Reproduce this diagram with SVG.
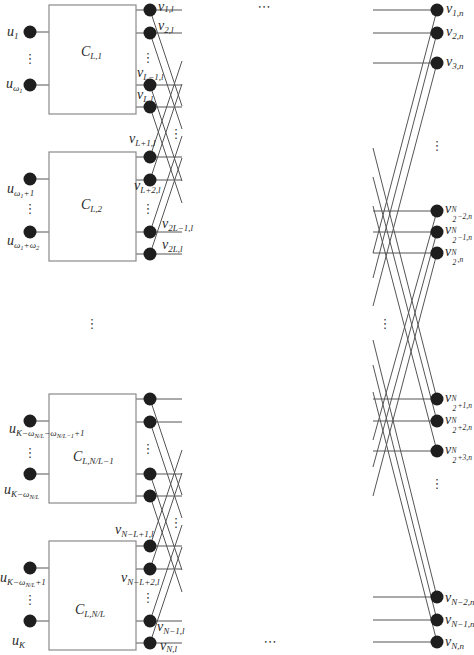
<svg xmlns="http://www.w3.org/2000/svg" width="474" height="655" viewBox="0 0 474 655">
<style>
.bg{fill:#fff}
.blk{fill:#fff;stroke:#8a8a8a;stroke-width:1.2}
.ln{stroke:#555;stroke-width:1;fill:none}
.dot{fill:#1e1e1e}
.t{font-family:"Liberation Serif",serif;font-style:italic;font-size:14px;fill:#2a2a2a}
.s{font-size:9px}
.ss{font-size:6.5px}
.f{font-size:7.5px}
.el{font-family:"DejaVu Sans",sans-serif;font-size:13px;fill:#444;text-anchor:middle}
</style>
<rect class="bg" x="0" y="0" width="474" height="655"/>

<g id="connectors">
  <path class="ln" d="M30 32H49M30 85H49M30 179H49M30 232H49M30 421H49M30 474H49M30 568H49M30 621H49"/>
  <path class="ln" d="M136 10H182M136 33H182M136 85H182M136 107H182M136 157H182M136 180H182M136 232H182M136 254H182"/>
  <path class="ln" d="M136 399H182M136 422H182M136 474H182M136 496H182M136 546H182M136 569H182M136 621H182M136 643H182"/>
  <path class="ln" d="M150 10L182 106M150 33L182 129M150 85L182 181M150 107L182 203"/>
  <path class="ln" d="M150 157L182 61M150 180L182 84M150 232L182 136M150 254L182 158"/>
  <path class="ln" d="M150 399L182 495M150 422L182 518M150 474L182 570M150 496L182 592"/>
  <path class="ln" d="M150 546L182 450M150 569L182 473M150 621L182 525M150 643L182 547"/>
  <path class="ln" d="M373 10H437M373 33H437M373 63H437M373 211H437M373 232H437M373 253H437M373 399H437M373 421H437M373 451H437M373 597H437M373 620H437M373 642H437"/>
  <path class="ln" d="M437 10L373 253M437 33L373 278M437 63L373 306"/>
  <path class="ln" d="M437 211L373 440M437 232L373 467M437 253L373 496"/>
  <path class="ln" d="M437 399L373 148M437 421L373 177M437 451L373 206"/>
  <path class="ln" d="M437 597L373 340M437 620L373 365M437 642L373 392"/>
</g>

<g id="C_L1">
  <rect class="blk" x="49" y="5" width="87" height="109"/>
  <text class="t" x="81" y="56">C<tspan class="s" dy="3">L,1</tspan></text>
</g>
<g id="C_L2">
  <rect class="blk" x="49" y="152" width="87" height="109"/>
  <text class="t" x="81" y="209">C<tspan class="s" dy="3">L,2</tspan></text>
</g>
<g id="C_LNL-1">
  <rect class="blk" x="49" y="394" width="87" height="109"/>
  <text class="t" x="73" y="461">C<tspan class="s" dy="3">L,N/L−1</tspan></text>
</g>
<g id="C_LNL">
  <rect class="blk" x="49" y="541" width="87" height="109"/>
  <text class="t" x="75" y="614">C<tspan class="s" dy="3">L,N/L</tspan></text>
</g>

<g id="u1"><circle class="dot" cx="30" cy="32" r="6.5"/><text class="t" x="7" y="36">u<tspan class="s" dy="3">1</tspan></text></g>
<g id="u_w1"><circle class="dot" cx="30" cy="85" r="6.5"/><text class="t" x="6" y="88">u<tspan class="s" dy="3">ω</tspan><tspan class="ss" dy="2">1</tspan></text></g>
<g id="u_w1p1"><circle class="dot" cx="30" cy="179" r="6.5"/><text class="t" x="7" y="193">u<tspan class="s" dy="3">ω</tspan><tspan class="ss" dy="2">1</tspan><tspan class="s" dy="-2">+1</tspan></text></g>
<g id="u_w1pw2"><circle class="dot" cx="30" cy="232" r="6.5"/><text class="t" x="7" y="245">u<tspan class="s" dy="3">ω</tspan><tspan class="ss" dy="2">1</tspan><tspan class="s" dy="-2">+ω</tspan><tspan class="ss" dy="2">2</tspan></text></g>
<g id="u_a"><circle class="dot" cx="30" cy="421" r="6.5"/><text class="t" x="9" y="433">u<tspan class="s" dy="3">K−ω</tspan><tspan class="ss" dy="2">N/L</tspan><tspan class="s" dy="-2">−ω</tspan><tspan class="ss" dy="2">N/L−1</tspan><tspan class="s" dy="-2">+1</tspan></text></g>
<g id="u_b"><circle class="dot" cx="30" cy="474" r="6.5"/><text class="t" x="4" y="494">u<tspan class="s" dy="3">K−ω</tspan><tspan class="ss" dy="2">N/L</tspan></text></g>
<g id="u_c"><circle class="dot" cx="30" cy="568" r="6.5"/><text class="t" x="0" y="582">u<tspan class="s" dy="3">K−ω</tspan><tspan class="ss" dy="2">N/L</tspan><tspan class="s" dy="-2">+1</tspan></text></g>
<g id="uK"><circle class="dot" cx="30" cy="621" r="6.5"/><text class="t" x="12" y="645">u<tspan class="s" dy="3">K</tspan></text></g>

<g id="v1l"><circle class="dot" cx="150" cy="10" r="6.5"/><text class="t" x="158" y="11">v<tspan class="s" dy="1">1,l</tspan></text></g>
<g id="v2l"><circle class="dot" cx="150" cy="33" r="6.5"/><text class="t" x="158" y="30">v<tspan class="s" dy="3">2,l</tspan></text></g>
<g id="vLm1l"><circle class="dot" cx="150" cy="85" r="6.5"/><text class="t" x="137" y="77">v<tspan class="s" dy="3">L−1,l</tspan></text></g>
<g id="vLl"><circle class="dot" cx="150" cy="107" r="6.5"/><text class="t" x="137" y="99">v<tspan class="s" dy="3">L,l</tspan></text></g>
<g id="vLp1l"><circle class="dot" cx="150" cy="157" r="6.5"/><text class="t" x="129" y="143">v<tspan class="s" dy="3">L+1,l</tspan></text></g>
<g id="vLp2l"><circle class="dot" cx="150" cy="180" r="6.5"/><text class="t" x="134" y="190">v<tspan class="s" dy="3">L+2,l</tspan></text></g>
<g id="v2Lm1l"><circle class="dot" cx="150" cy="232" r="6.5"/><text class="t" x="162" y="228">v<tspan class="s" dy="3">2L−1,l</tspan></text></g>
<g id="v2Ll"><circle class="dot" cx="150" cy="254" r="6.5"/><text class="t" x="162" y="249">v<tspan class="s" dy="3">2L,l</tspan></text></g>
<g id="o3a"><circle class="dot" cx="150" cy="399" r="6.5"/></g>
<g id="o3b"><circle class="dot" cx="150" cy="422" r="6.5"/></g>
<g id="o3c"><circle class="dot" cx="150" cy="474" r="6.5"/></g>
<g id="o3d"><circle class="dot" cx="150" cy="496" r="6.5"/></g>
<g id="vNmLp1l"><circle class="dot" cx="150" cy="546" r="6.5"/><text class="t" x="115" y="534">v<tspan class="s" dy="3">N−L+1,l</tspan></text></g>
<g id="vNmLp2l"><circle class="dot" cx="150" cy="569" r="6.5"/><text class="t" x="121" y="582">v<tspan class="s" dy="3">N−L+2,l</tspan></text></g>
<g id="vNm1l"><circle class="dot" cx="150" cy="621" r="6.5"/><text class="t" x="157" y="631">v<tspan class="s" dy="3">N−1,l</tspan></text></g>
<g id="vNl"><circle class="dot" cx="150" cy="643" r="6.5"/><text class="t" x="160" y="650">v<tspan class="s" dy="2">N,l</tspan></text></g>

<g id="v1n"><circle class="dot" cx="437" cy="10" r="6.5"/><text class="t" x="446" y="13">v<tspan class="s" dy="3">1,n</tspan></text></g>
<g id="v2n"><circle class="dot" cx="437" cy="33" r="6.5"/><text class="t" x="446" y="36">v<tspan class="s" dy="3">2,n</tspan></text></g>
<g id="v3n"><circle class="dot" cx="437" cy="63" r="6.5"/><text class="t" x="446" y="66">v<tspan class="s" dy="3">3,n</tspan></text></g>
<g id="vh_m2"><circle class="dot" cx="437" cy="211" r="6.5"/><text class="t" x="445" y="213">v<tspan class="f" x="451.5" dy="-1">N</tspan><tspan class="f" x="452.5" dy="10">2</tspan><tspan class="f" x="457.5" dy="-3">−2,n</tspan></text></g>
<g id="vh_m1"><circle class="dot" cx="437" cy="232" r="6.5"/><text class="t" x="445" y="234">v<tspan class="f" x="451.5" dy="-1">N</tspan><tspan class="f" x="452.5" dy="10">2</tspan><tspan class="f" x="457.5" dy="-3">−1,n</tspan></text></g>
<g id="vh"><circle class="dot" cx="437" cy="253" r="6.5"/><text class="t" x="445" y="256">v<tspan class="f" x="451.5" dy="-1">N</tspan><tspan class="f" x="452.5" dy="10">2</tspan><tspan class="f" x="457.5" dy="-3">,n</tspan></text></g>
<g id="vh_p1"><circle class="dot" cx="437" cy="399" r="6.5"/><text class="t" x="445" y="402">v<tspan class="f" x="451.5" dy="-1">N</tspan><tspan class="f" x="452.5" dy="10">2</tspan><tspan class="f" x="457.5" dy="-3">+1,n</tspan></text></g>
<g id="vh_p2"><circle class="dot" cx="437" cy="421" r="6.5"/><text class="t" x="445" y="424">v<tspan class="f" x="451.5" dy="-1">N</tspan><tspan class="f" x="452.5" dy="10">2</tspan><tspan class="f" x="457.5" dy="-3">+2,n</tspan></text></g>
<g id="vh_p3"><circle class="dot" cx="437" cy="451" r="6.5"/><text class="t" x="445" y="454">v<tspan class="f" x="451.5" dy="-1">N</tspan><tspan class="f" x="452.5" dy="10">2</tspan><tspan class="f" x="457.5" dy="-3">+3,n</tspan></text></g>
<g id="vNm2n"><circle class="dot" cx="437" cy="597" r="6.5"/><text class="t" x="445" y="602">v<tspan class="s" dy="3">N−2,n</tspan></text></g>
<g id="vNm1n"><circle class="dot" cx="437" cy="620" r="6.5"/><text class="t" x="445" y="624">v<tspan class="s" dy="3">N−1,n</tspan></text></g>
<g id="vNn"><circle class="dot" cx="437" cy="642" r="6.5"/><text class="t" x="445" y="646">v<tspan class="s" dy="3">N,n</tspan></text></g>

<g id="ellipses">
  <text class="el" x="264" y="11">⋯</text>
  <text class="el" x="270" y="646">⋯</text>
  <text class="el" x="30" y="63">⋮</text>
  <text class="el" x="30" y="213">⋮</text>
  <text class="el" x="30" y="457">⋮</text>
  <text class="el" x="30" y="604">⋮</text>
  <text class="el" x="148" y="62">⋮</text>
  <text class="el" x="148" y="213">⋮</text>
  <text class="el" x="148" y="453">⋮</text>
  <text class="el" x="148" y="602">⋮</text>
  <text class="el" x="176" y="138">⋮</text>
  <text class="el" x="176" y="527">⋮</text>
  <text class="el" x="92" y="328">⋮</text>
  <text class="el" x="385" y="328">⋮</text>
  <text class="el" x="437" y="150">⋮</text>
  <text class="el" x="437" y="488">⋮</text>
</g>
</svg>
